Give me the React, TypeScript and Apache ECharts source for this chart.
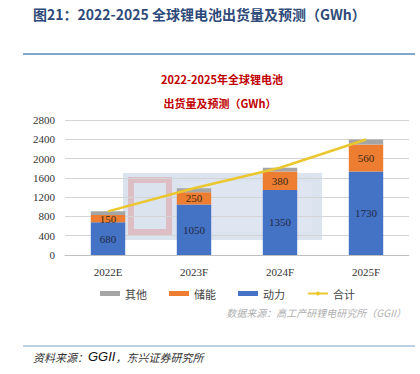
import React, { useEffect, useRef } from "react";
import * as echarts from "echarts";

const categories = ["2022E", "2023F", "2024F", "2025F"];
const power = [680, 1050, 1350, 1730];
const storage = [150, 250, 380, 560];
const others = [75, 85, 80, 106];
const total = [905, 1385, 1810, 2396];
const totalLabels = ["905", "", "", "2396"];
const yTicks = { min: 0, max: 2800, interval: 400 };

const serif = "serif";
const serif2 = "Liberation Serif";
const cjk = "Noto Sans CJK SC, Noto Sans, sans-serif";

export default function App() {
  const ref = useRef<HTMLDivElement>(null);
  useEffect(() => {
    const chart = echarts.init(ref.current!, null, { renderer: "svg" });
    chart.setOption({
      animation: false,
      backgroundColor: "#ffffff",
      grid: { left: 65, right: 11, top: 120, bottom: 119 },
      legend: {
        left: 95,
        top: 283,
        itemWidth: 20,
        itemHeight: 5,
        itemGap: 22,
        textStyle: { fontFamily: cjk, fontSize: 11, color: "#444" },
        data: [
          { name: "其他", icon: "rect" },
          { name: "储能", icon: "rect" },
          { name: "动力", icon: "rect" },
          { name: "合计" },
        ],
      },
      xAxis: {
        type: "category",
        data: categories,
        axisTick: { show: false },
        axisLine: { lineStyle: { color: "#bfbfbf" } },
        axisLabel: { fontFamily: serif2, fontSize: 11, color: "#333", margin: 11 },
      },
      yAxis: {
        type: "value",
        min: yTicks.min,
        max: yTicks.max,
        interval: yTicks.interval,
        axisLine: { show: false },
        axisTick: { show: false },
        splitLine: { lineStyle: { color: "#d4d4d4" } },
        axisLabel: {
          fontFamily: serif,
          fontSize: 11,
          color: "#333",
          margin: 10,
          formatter: (v: number) => String(v),
        },
      },
      series: [
        {
          name: "动力",
          type: "bar",
          stack: "s",
          data: power,
          barWidth: "40%",
          itemStyle: { color: "#4472C4" },
          label: { show: true, position: "inside", fontFamily: serif2, fontSize: 11, color: "#1f2a44" },
        },
        {
          name: "储能",
          type: "bar",
          stack: "s",
          data: storage,
          itemStyle: { color: "#ED7D31" },
          label: { show: true, position: "inside", fontFamily: serif2, fontSize: 11, color: "#3a2a1a" },
        },
        {
          name: "其他",
          type: "bar",
          stack: "s",
          data: others,
          itemStyle: { color: "#A5A5A5" },
        },
        {
          name: "合计",
          type: "line",
          data: total,
          symbol: "none",
          lineStyle: { color: "#EBC72E", width: 2.5 },
          itemStyle: { color: "#EBC72E" },
          z: 5,
          label: {
            show: true,
            position: "right",
            distance: 3,
            offset: [0, -1],
            fontFamily: serif2,
            fontSize: 11,
            color: "#333",
            formatter: (p: any) => totalLabels[p.dataIndex],
          },
        },
      ],
      graphic: [
        {
          type: "text",
          left: 33,
          top: 7,
          style: {
            text: "图21：2022-2025 全球锂电池出货量及预测（GWh）",
            fontFamily: cjk,
            fontWeight: "bold",
            fontSize: 14,
            fill: "#2E4A78",
          },
        },
        {
          type: "line",
          shape: { x1: 23, y1: 54, x2: 415, y2: 54 },
          style: { stroke: "#5B8AC0", lineWidth: 1.5 },
        },
        {
          type: "text",
          x: 222,
          y: 79,
          style: {
            text: "2022-2025年全球锂电池",
            fontFamily: cjk,
            fontWeight: "bold",
            fontSize: 11,
            fill: "#C00000",
            align: "center",
            verticalAlign: "middle",
          },
        },
        {
          type: "text",
          x: 220,
          y: 103,
          style: {
            text: "出货量及预测（GWh）",
            fontFamily: cjk,
            fontWeight: "bold",
            fontSize: 11,
            fill: "#C00000",
            align: "center",
            verticalAlign: "middle",
          },
        },
        {
          type: "group",
          silent: true,
          z: 100,
          children: [
            {
              type: "rect",
              shape: { x: 123, y: 173, width: 199, height: 67 },
              style: { fill: "rgba(110,145,190,0.25)" },
            },
            {
              type: "rect",
              shape: { x: 131, y: 180, width: 38, height: 52 },
              style: { fill: "none", stroke: "rgba(230,120,120,0.35)", lineWidth: 6 },
            },
            {
              type: "rect",
              shape: { x: 182, y: 182, width: 130, height: 50 },
              style: { fill: "rgba(255,255,255,0.12)" },
            },
          ],
        },
        {
          type: "text",
          right: 14,
          top: 307,
          style: {
            text: "数据来源：高工产研锂电研究所（GGII）",
            fontFamily: cjk,
            fontStyle: "italic",
            fontSize: 10,
            fill: "#b0b0b0",
          },
        },
        {
          type: "line",
          shape: { x1: 23, y1: 346, x2: 415, y2: 346 },
          style: { stroke: "#7FA3C8", lineWidth: 1.2 },
        },
        {
          type: "text",
          left: 33,
          top: 350,
          style: {
            text: "资料来源：{g|GGII}，东兴证券研究所",
            fontFamily: cjk,
            fontStyle: "italic",
            fontSize: 11,
            fill: "#333",
            rich: {
              g: { fontFamily: "Liberation Sans, Arial, sans-serif", fontSize: 13, fontStyle: "italic", fill: "#111" },
            },
          },
        },
      ],
    });
    return () => chart.dispose();
  }, []);
  return (
    <div
      ref={ref}
      style={{ position: "fixed", left: 0, top: 0, width: 420, height: 374 }}
    />
  );
}
